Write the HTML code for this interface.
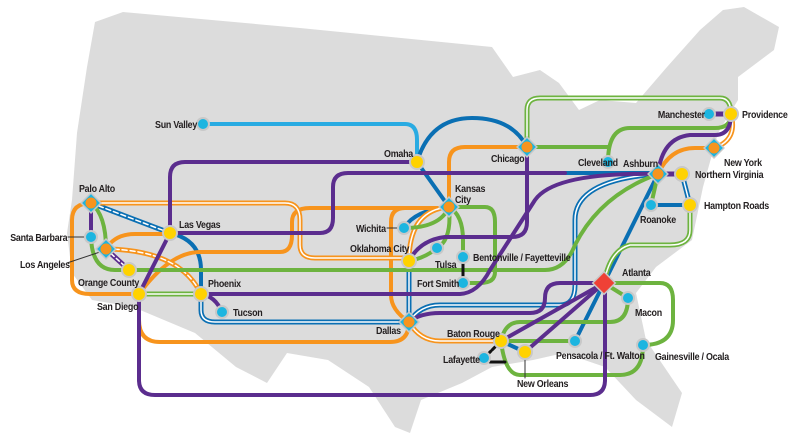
<!DOCTYPE html>
<html><head><meta charset="utf-8"><style>
html,body{margin:0;padding:0;background:#fff;width:800px;height:443px;overflow:hidden}
svg text{font-family:"Liberation Sans",sans-serif;font-size:10.5px;font-weight:bold;fill:#231f20;letter-spacing:-0.3px}
</style></head><body>
<svg width="800" height="443" viewBox="0 0 800 443" xmlns="http://www.w3.org/2000/svg">
<path fill="#dcdcdc" d="M95,22 L123,12 L300,28 L492,47 L513,77 L540,70 L559,83 L579,110 L600,100 L636,103 L667,67 L700,30 L723,10 L744,7 L779,27 L774,50 L738,77 L738,100 L718,133 L703,187 L692,240 L656,267 L636,293 L646,340 L682,393 L672,427 L636,400 L605,367 L564,353 L533,360 L492,367 L462,383 L421,400 L410,433 L395,427 L369,387 L328,360 L287,353 L267,383 L236,367 L195,333 L133,307 L92,300 L72,273 L67,233 L72,200 L77,133 L87,67 Z"/>
<g fill="none" stroke-width="4" stroke-linecap="round" stroke-linejoin="round">
<path stroke="#29abe2" d="M203,124 H405 Q417,124 417,140 V162"/>
<g stroke="#0a6fb3">
<path d="M417,162 Q430,118 472,118 Q512,118 527,147"/>
<path d="M417,162 L449,207"/>
<path d="M170,233 Q201,240 201,270 V294"/>
<path d="M449,207 Q415,210 404,228"/>
<path d="M565,173 H658"/>
<path d="M604,283 L658,174"/>
<path d="M604,283 L575,341"/>
<path d="M501,341 L525,352"/>
<path d="M651,205 H690"/>
</g>
<g stroke="#0a6fb3" stroke-width="5">
<path d="M91,203 L170,233"/>
<path d="M201,294 V310 Q201,322 215,322 H409"/>
<path d="M409,322 Q420,305 440,305 H560 Q575,305 575,285 V220 Q575,180 658,174"/>
<path d="M409,322 V261"/>
<path d="M682,174 L690,205"/>
</g>
<g stroke="#fff" stroke-width="1.5">
<path d="M91,203 L170,233" stroke-dasharray="5 3"/>
<path d="M201,294 V310 Q201,322 215,322 H409"/>
<path d="M409,322 Q420,305 440,305 H560 Q575,305 575,285 V220 Q575,180 658,174"/>
<path d="M409,322 V261"/>
<path d="M682,174 L690,205"/>
</g>
<g stroke="#f7941d">
<path d="M91,203 Q72,203 72,220 V280 Q72,294 90,294 H139"/>
<path d="M106,249 Q115,234 135,234 H170"/>
<path d="M139,294 Q170,252 200,252 H280 Q292,252 292,235 V222 Q292,208 310,208 H449"/>
<path d="M139,294 V320 Q139,342 160,342 H390 Q409,342 409,322"/>
<path d="M409,322 Q391,310 391,295 V222 Q391,208 405,208 H449"/>
<path d="M449,207 V162 Q449,147 465,147 H527"/>
<path d="M658,174 Q670,148 695,148 H714"/>
</g>
<g stroke="#f7941d" stroke-width="5">
<path d="M91,203 H285 Q300,203 300,220 V245 Q300,258 315,258 H409"/>
<path d="M106,249 Q180,250 201,294"/>
<path d="M409,261 Q409,210 449,207"/>
<path d="M409,322 Q420,341 440,341 H501"/>
<path d="M714,148 Q738,140 731,114"/>
</g>
<g stroke="#fff" stroke-width="1.5">
<path d="M91,203 H285 Q300,203 300,220 V245 Q300,258 315,258 H409"/>
<path d="M106,249 Q180,250 201,294" stroke-dasharray="5 3"/>
<path d="M409,261 Q409,210 449,207"/>
<path d="M409,322 Q420,341 440,341 H501"/>
<path d="M714,148 Q738,140 731,114"/>
</g>
<g stroke="#6db33f">
<path d="M91,203 Q106,215 106,249"/>
<path d="M91,237 Q92,270 115,270 H129"/>
<path d="M129,270 H545 Q565,270 575,245 Q600,195 658,174"/>
<path d="M449,207 Q440,228 404,228"/>
<path d="M449,207 Q452,240 437,248 Q425,258 409,261"/>
<path d="M449,207 Q463,215 463,240 V257"/>
<path d="M449,207 H485 Q495,207 495,222 V272 Q495,283 480,283 H463"/>
<path d="M527,147 H608"/>
<path d="M608,162 Q608,128 630,128 H715 Q731,128 731,114"/>
<path d="M658,174 L651,205"/>
<path d="M604,283 H660 Q673,283 673,300 V320 Q673,345 643,345"/>
<path d="M604,283 L628,298"/>
<path d="M628,298 Q628,322 610,322 H520 Q505,322 501,341"/>
<path d="M501,341 H575"/>
<path d="M643,345 Q643,375 620,375 H520 Q505,375 501,341"/>
</g>
<g stroke="#6db33f" stroke-width="5">
<path d="M139,294 H201"/>
<path d="M527,147 V110 Q527,98 540,98 H720 Q731,98 731,114"/>
<path d="M690,205 V230 Q690,245 670,245 H630 Q610,250 604,283"/>
</g>
<g stroke="#fff" stroke-width="1.5">
<path d="M139,294 H201"/>
<path d="M527,147 V110 Q527,98 540,98 H720 Q731,98 731,114"/>
<path d="M690,205 V230 Q690,245 670,245 H630 Q610,250 604,283"/>
</g>
<g stroke="#5b2d8e">
<path d="M417,162 H185 Q170,162 170,177 V233"/>
<path d="M170,233 H320 Q333,233 333,218 V187 Q333,173 348,173 H565"/>
<path d="M170,233 L139,294"/>
<path d="M91,203 V237"/>
<path d="M201,294 Q215,296 222,312"/>
<path d="M201,294 H460 Q478,293 490,270 L535,200 Q555,172 658,174"/>
<path d="M527,147 V222 Q527,237 512,237 H445 Q420,240 409,261"/>
<path d="M139,294 V380 Q139,395 155,395 H590 Q605,395 605,380 V283"/>
<path d="M409,322 Q420,313 440,313 H530 Q545,313 545,298 Q545,283 560,283 H604"/>
<path d="M604,283 L501,341"/>
<path d="M604,283 L525,352"/>
<path d="M658,174 Q662,138 690,135 H715 Q731,135 731,114"/>
</g>
<g stroke="#5b2d8e" stroke-width="5">
<path d="M106,249 L129,270"/>
<path d="M709,114 H731"/>
<path d="M658,174 H682"/>
</g>
<g stroke="#fff" stroke-width="1.5" stroke-dasharray="4 3">
<path d="M106,249 L129,270"/>
</g>
<g stroke="#111" stroke-width="3">
<path d="M463,257 V283"/>
<path d="M484,358 L501,341" stroke-dasharray="4 2"/>
<path d="M490,362 H505"/>
</g>
<g stroke="#333" stroke-width="1">
<path d="M68,237 H85"/><path d="M67,263 L100,252"/><path d="M387,228 H398"/><path d="M525,352 V378"/>
</g>
</g>
<g stroke="#c8c8c8" stroke-width="2">
<circle cx="203" cy="124" r="6" fill="#1cb5e0"/>
<circle cx="91" cy="237" r="6" fill="#1cb5e0"/>
<circle cx="222" cy="312" r="6" fill="#1cb5e0"/>
<circle cx="404" cy="228" r="6" fill="#1cb5e0"/>
<circle cx="437" cy="248" r="6" fill="#1cb5e0"/>
<circle cx="463" cy="257" r="6" fill="#1cb5e0"/>
<circle cx="463" cy="283" r="6" fill="#1cb5e0"/>
<circle cx="484" cy="358" r="6" fill="#1cb5e0"/>
<circle cx="575" cy="341" r="6" fill="#1cb5e0"/>
<circle cx="628" cy="298" r="6" fill="#1cb5e0"/>
<circle cx="643" cy="345" r="6" fill="#1cb5e0"/>
<circle cx="608" cy="162" r="6" fill="#1cb5e0"/>
<circle cx="651" cy="205" r="6" fill="#1cb5e0"/>
<circle cx="709" cy="114" r="6" fill="#1cb5e0"/>
<circle cx="170" cy="233" r="7" fill="#ffd200"/>
<circle cx="129" cy="270" r="7" fill="#ffd200"/>
<circle cx="139" cy="294" r="7" fill="#ffd200"/>
<circle cx="201" cy="294" r="7" fill="#ffd200"/>
<circle cx="417" cy="162" r="7" fill="#ffd200"/>
<circle cx="409" cy="261" r="7" fill="#ffd200"/>
<circle cx="501" cy="341" r="7" fill="#ffd200"/>
<circle cx="525" cy="352" r="7" fill="#ffd200"/>
<circle cx="682" cy="174" r="7" fill="#ffd200"/>
<circle cx="690" cy="205" r="7" fill="#ffd200"/>
<circle cx="731" cy="114" r="7" fill="#ffd200"/>
</g>
<g>
<g transform="translate(91,203)"><rect x="-7" y="-7" width="14" height="14" transform="rotate(45)" fill="#1cb5e0" stroke="#c8c8c8" stroke-width="1.5"/><circle r="5.5" fill="#f7941d"/></g>
<g transform="translate(106,249)"><rect x="-7" y="-7" width="14" height="14" transform="rotate(45)" fill="#1cb5e0" stroke="#c8c8c8" stroke-width="1.5"/><circle r="5.5" fill="#f7941d"/></g>
<g transform="translate(449,207)"><rect x="-7" y="-7" width="14" height="14" transform="rotate(45)" fill="#1cb5e0" stroke="#c8c8c8" stroke-width="1.5"/><circle r="5.5" fill="#f7941d"/></g>
<g transform="translate(527,147)"><rect x="-7" y="-7" width="14" height="14" transform="rotate(45)" fill="#1cb5e0" stroke="#c8c8c8" stroke-width="1.5"/><circle r="5.5" fill="#f7941d"/></g>
<g transform="translate(409,322)"><rect x="-7" y="-7" width="14" height="14" transform="rotate(45)" fill="#1cb5e0" stroke="#c8c8c8" stroke-width="1.5"/><circle r="5.5" fill="#f7941d"/></g>
<g transform="translate(658,174)"><rect x="-7" y="-7" width="14" height="14" transform="rotate(45)" fill="#1cb5e0" stroke="#c8c8c8" stroke-width="1.5"/><circle r="5.5" fill="#f7941d"/></g>
<g transform="translate(714,148)"><rect x="-7" y="-7" width="14" height="14" transform="rotate(45)" fill="#1cb5e0" stroke="#c8c8c8" stroke-width="1.5"/><circle r="5.5" fill="#f7941d"/></g>
<g transform="translate(604,283)"><rect x="-8" y="-8" width="16" height="16" transform="rotate(45)" fill="#ef4136" stroke="#c8c8c8" stroke-width="1.5"/></g>
</g>
<g transform="scale(0.85,1)">
<text x="182.4" y="128">Sun Valley</text>
<text x="451.8" y="157">Omaha</text>
<text x="577.6" y="162">Chicago</text>
<text x="680" y="166">Cleveland</text>
<text x="733" y="167">Ashburn</text>
<text x="774" y="118">Manchester</text>
<text x="873" y="118">Providence</text>
<text x="851.8" y="166">New York</text>
<text x="817.6" y="178">Northern Virginia</text>
<text x="828.2" y="209">Hampton Roads</text>
<text x="753" y="223">Roanoke</text>
<text x="535.3" y="192">Kansas</text>
<text x="535.3" y="203">City</text>
<text x="418.8" y="232">Wichita</text>
<text x="411.8" y="252">Oklahoma City</text>
<text x="511.8" y="268">Tulsa</text>
<text x="556.5" y="261">Bentonville / Fayetteville</text>
<text x="490.6" y="287">Fort Smith</text>
<text x="442.4" y="334">Dallas</text>
<text x="525.9" y="337">Baton Rouge</text>
<text x="521.2" y="363">Lafayette</text>
<text x="608.2" y="387">New Orleans</text>
<text x="654.1" y="359">Pensacola / Ft. Walton</text>
<text x="770.6" y="360">Gainesville / Ocala</text>
<text x="747" y="316">Macon</text>
<text x="731.8" y="276">Atlanta</text>
<text x="92.9" y="192">Palo Alto</text>
<text x="210.6" y="228">Las Vegas</text>
<text x="12" y="241">Santa Barbara</text>
<text x="23.5" y="268">Los Angeles</text>
<text x="91.8" y="286">Orange County</text>
<text x="114.1" y="310">San Diego</text>
<text x="244.7" y="287">Phoenix</text>
<text x="274.1" y="316">Tucson</text>
</g>
</svg>
</body></html>
